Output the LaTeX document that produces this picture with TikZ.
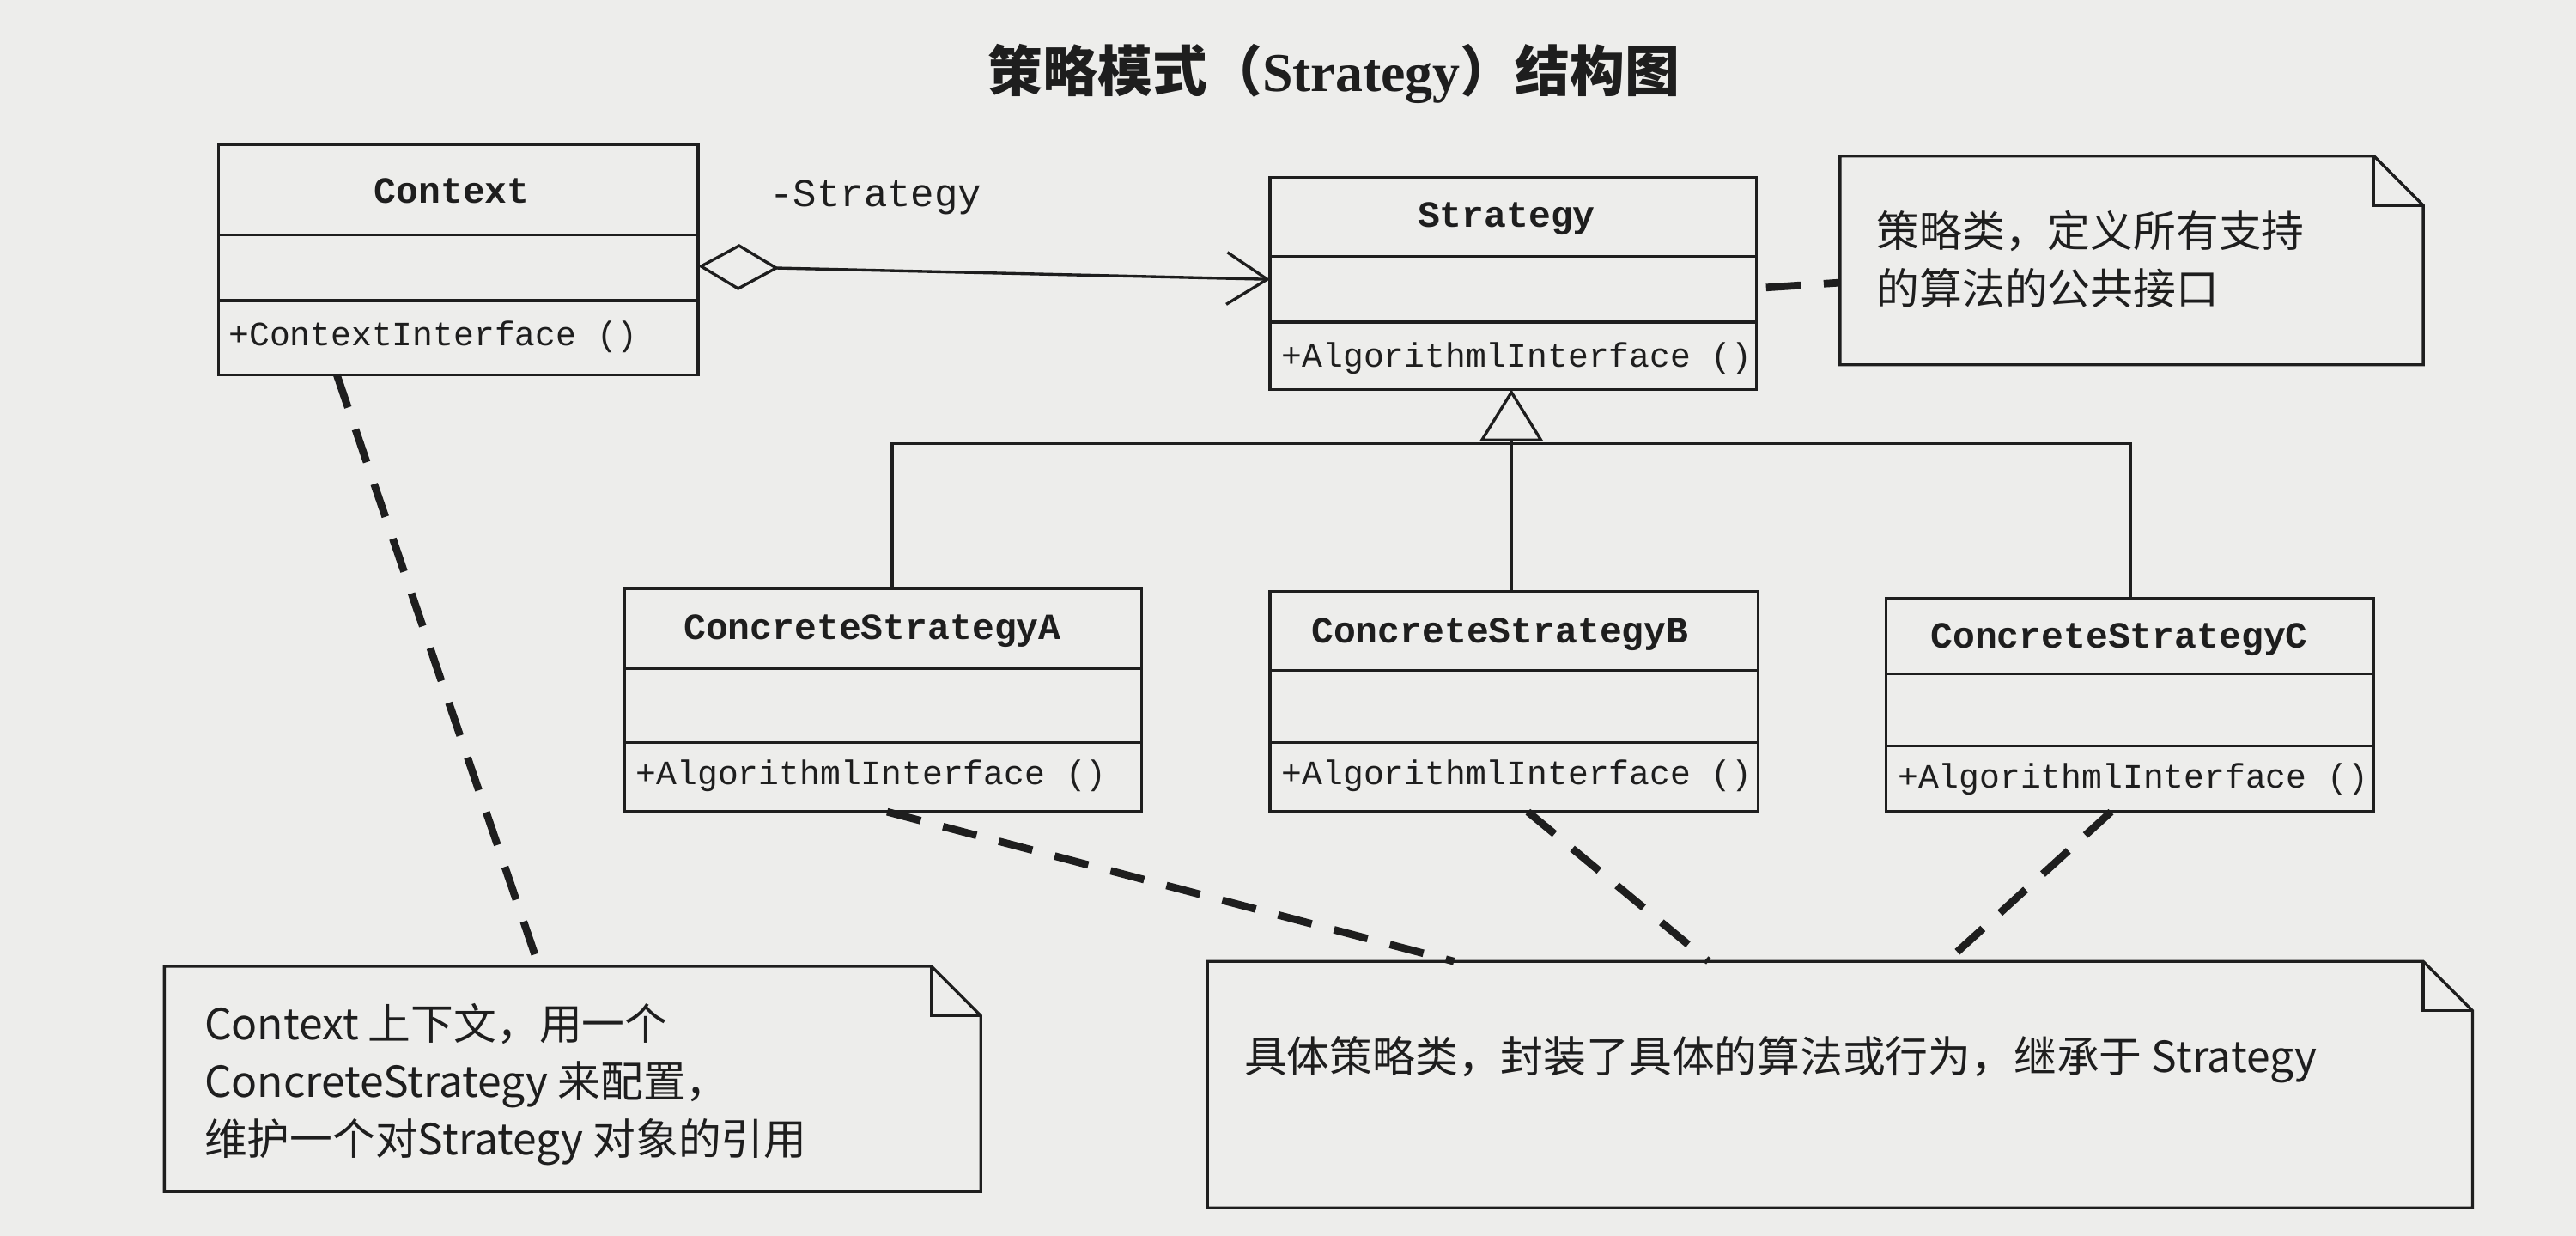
\documentclass[tikz,border=0pt]{standalone}
\usepackage{fontspec}
\setmainfont{Liberation Serif}
\setmonofont{Liberation Mono}
\newfontfamily\cjk{Noto Sans CJK SC}
\usetikzlibrary{arrows.meta}
\definecolor{paper}{HTML}{EDEDEB}
\definecolor{ink}{HTML}{1E1E1E}
\tikzset{
 box/.style={draw=ink,line width=0.5pt},
 ln/.style={draw=ink,line width=0.5pt},
 dsh/.style={draw=ink,line width=1.3pt,dash pattern=on 6pt off 4pt},
 cname/.style={font=\fontsize{6.4}{8}\selectfont\ttfamily\bfseries,text=ink},
 meth/.style={font=\fontsize{5.9}{8}\selectfont\ttfamily,text=ink,anchor=west,inner sep=1pt},
 txt/.style={font=\fontsize{7.4}{10}\selectfont\cjk,text=ink,align=left,anchor=west},
}
\newcommand{\classbox}[7]{% name, x1,y1,x2,y2, ysep1, ysep2
 \draw[box] (#2,#3) rectangle (#4,#5);
 \draw[ln] (#2,#6) -- (#4,#6);
 \draw[ln] (#2,#7) -- (#4,#7);
}
\newcommand{\notebox}[4]{% x1 y1 x2 y2
 \draw[box] (#1,#2) -- (#3-30,#2) -- (#3,#2+30) -- (#3,#4) -- (#1,#4) -- cycle;
 \draw[ln] (#3-30,#2) -- (#3-30,#2+30) -- (#3,#2+30);
}
\begin{document}
\begin{tikzpicture}[x=0.01cm,y=-0.01cm]
\fill[paper] (0,0) rectangle (1568,752);
\useasboundingbox (0,0) rectangle (1568,752);
\node[font=\fontsize{9.5}{11}\selectfont\cjk\bfseries,text=ink] (title) at (812,45) {策略模式（\textbf{\rmfamily Strategy}）结构图};
% Context
\classbox{}{133}{88}{425}{228}{143}{183}
\node[cname] (ctx) at (275,116) {Context};
\node[meth] (ctxm) at (135,205) {+ContextInterface ()};
% Strategy
\classbox{}{773}{108}{1069}{237}{156}{196}
\node[cname] (str) at (917,133) {Strategy};
\node[meth] (strm) at (776,218) {+AlgorithmlInterface ()};
% Concrete
\classbox{}{380}{358}{695}{494}{407}{452}
\node[cname] (csa) at (531,384) {ConcreteStrategyA};
\node[meth] (csam) at (383,472) {+AlgorithmlInterface ()};
\classbox{}{773}{360}{1070}{494}{408}{452}
\node[cname] (csb) at (913,386) {ConcreteStrategyB};
\node[meth] (csbm) at (776,472) {+AlgorithmlInterface ()};
\classbox{}{1148}{364}{1445}{494}{410}{454}
\node[cname] (csc) at (1290,389) {ConcreteStrategyC};
\node[meth] (cscm) at (1151,474) {+AlgorithmlInterface ()};
% aggregation
\coordinate (a1) at (425,162);
\coordinate (a2) at (773,170);
\draw[ln,{Diamond[open,length=14pt,width=8pt]}-{Straight Barb[length=7pt,width=9pt]}] (a1) -- (a2);
\node[font=\fontsize{6.8}{8}\selectfont\ttfamily,text=ink] (lbl) at (533,120) {-Strategy};
% inheritance
\draw[ln,{Triangle[open,length=9pt,width=11pt]}-] (920,237) -- (920,360);
\draw[ln] (543,358) -- (543,270) -- (1297,270) -- (1297,364);
% notes
\notebox{1120}{95}{1475}{222}
\node[txt] (n1) at (1130,158) {策略类，定义所有支持\\的算法的公共接口};
\notebox{100}{588}{597}{725}
\node[txt] (n2) at (112,660) {Context 上下文，用一个\\ConcreteStrategy 来配置，\\维护一个对Strategy 对象的引用};
\notebox{735}{585}{1505}{735}
\node[txt] (n3) at (745,645) {具体策略类，封装了具体的算法或行为，继承于 Strategy};
% dashed
\draw[dsh] (205,228) -- (328,588);
\draw[dsh] (1075,175) -- (1120,172);
\draw[dsh] (540,494) -- (885,585);
\draw[dsh] (930,494) -- (1040,585);
\draw[dsh] (1285,494) -- (1185,585);
\end{tikzpicture}
\end{document}
